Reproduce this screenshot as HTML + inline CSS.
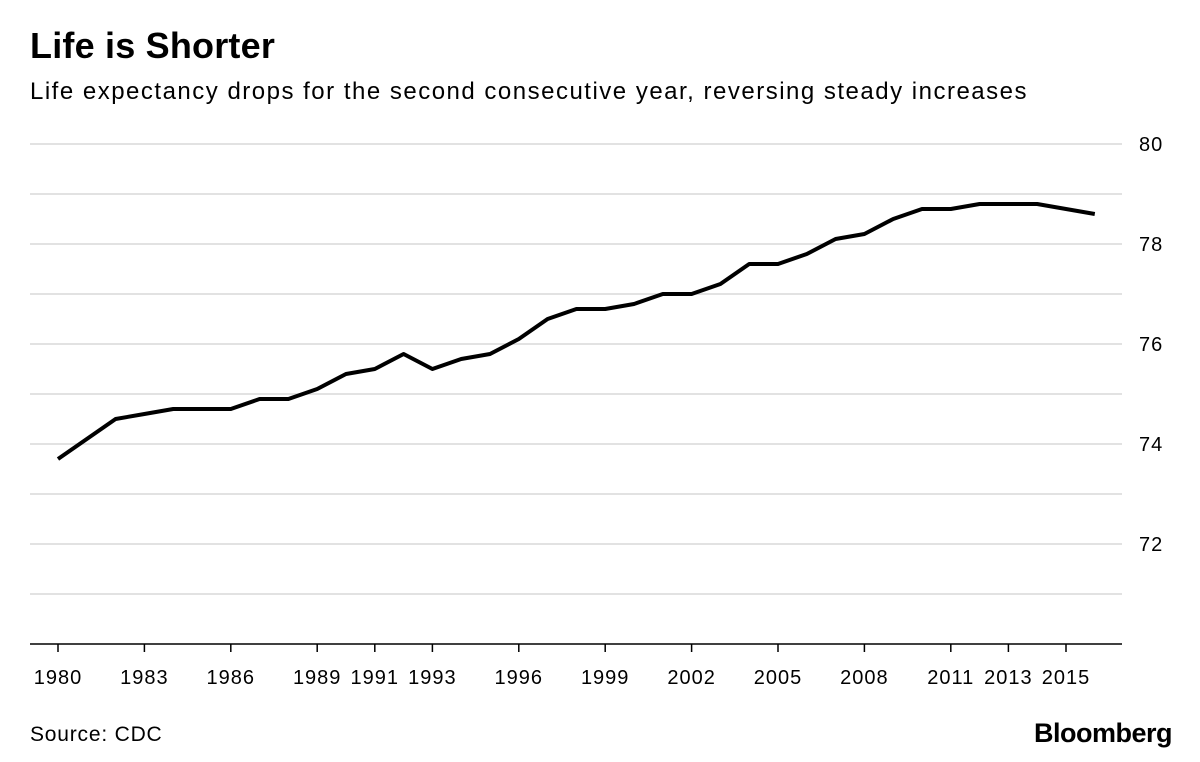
<!DOCTYPE html>
<html><head><meta charset="utf-8"><style>
body{margin:0;width:1200px;height:762px;background:#fff;font-family:"Liberation Sans",sans-serif;overflow:hidden;position:relative}
.t{position:absolute;left:30px;top:25px;font-size:36px;font-weight:bold;color:#000;letter-spacing:0.2px}
.s{position:absolute;left:30px;top:78px;font-size:24px;color:#000;letter-spacing:1.5px}
.src{position:absolute;left:30px;top:723px;font-size:21px;color:#000;letter-spacing:0.8px}
.bb{position:absolute;right:28px;top:718px;font-size:27px;font-weight:bold;letter-spacing:-0.5px}
</style></head><body>
<div class="t">Life is Shorter</div>
<div class="s">Life expectancy drops for the second consecutive year, reversing steady increases</div>
<svg id="c" width="1200" height="762" style="position:absolute;left:0;top:0"></svg>
<div class="src">Source: CDC</div>
<div class="bb">Bloomberg</div>
<script>
const years=[1980,1981,1982,1983,1984,1985,1986,1987,1988,1989,1990,1991,1992,1993,1994,1995,1996,1997,1998,1999,2000,2001,2002,2003,2004,2005,2006,2007,2008,2009,2010,2011,2012,2013,2014,2015,2016];
const lifeExp=[73.7,74.1,74.5,74.6,74.7,74.7,74.7,74.9,74.9,75.1,75.4,75.5,75.8,75.5,75.7,75.8,76.1,76.5,76.7,76.7,76.8,77.0,77.0,77.2,77.6,77.6,77.8,78.1,78.2,78.5,78.7,78.7,78.8,78.8,78.8,78.7,78.6];
const xTicks=[1980,1983,1986,1989,1991,1993,1996,1999,2002,2005,2008,2011,2013,2015];
const yTicks=[72,74,76,78,80];
const yGrid=[71,72,73,74,75,76,77,78,79,80];
const svg=document.getElementById('c');const NS='http://www.w3.org/2000/svg';
const X=y=>58+(y-1980)*28.8;const Y=v=>644-(v-70)*50;
function mk(t,a){const e=document.createElementNS(NS,t);for(const k in a)e.setAttribute(k,a[k]);svg.appendChild(e);return e;}
yGrid.forEach(v=>{const l=mk('line',{x1:30,x2:1122,y1:Y(v),y2:Y(v),stroke:'#d9d9d9','stroke-width':1.5});

});
yTicks.forEach(v=>{const t=mk('text',{x:1139,y:Y(v)+7,'font-size':20,'letter-spacing':1,fill:'#000'});t.textContent=v;

});
const ax=mk('line',{x1:30,x2:1122,y1:644,y2:644,stroke:'#000','stroke-width':1.5});


xTicks.forEach(y=>{const tk=mk('line',{x1:X(y),x2:X(y),y1:644,y2:652,stroke:'#000','stroke-width':1.5});


const t=mk('text',{x:X(y),y:684,'font-size':20,'letter-spacing':1,'text-anchor':'middle',fill:'#000'});t.textContent=y;

});
const p=mk('polyline',{points:years.map((y,i)=>X(y)+','+Y(lifeExp[i])).join(' '),fill:'none',stroke:'#000','stroke-width':4,'stroke-linejoin':'round'});


</script>
</body></html>
